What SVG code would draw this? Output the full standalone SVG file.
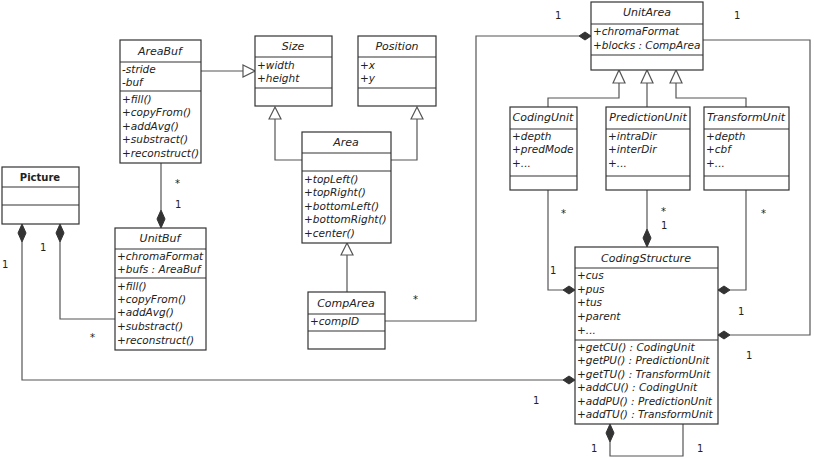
<svg xmlns="http://www.w3.org/2000/svg" width="814" height="460" viewBox="0 0 814 460">
<style>
rect{fill:#fff;stroke:#333;stroke-width:1.2}
.d{stroke:#333;stroke-width:1.2}
text{font-family:"DejaVu Sans",sans-serif;font-size:10.5px;font-style:italic;fill:#222}
.h{text-anchor:middle;font-size:11px}
.l{font-style:normal;font-size:10px}
#conn path{fill:none;stroke:#555;stroke-width:1.2}
.tri{fill:#fff;stroke:#555;stroke-width:1.2}
.dia{fill:#333;stroke:#333}
</style>
<rect x="0" y="0" width="814" height="460" style="stroke:none"/>
<g id="conn">
<path d="M201,71H243M302,160H275V119M391,160H417V119M347,292V255M161,163V210M22,242V380H563M60,242V319H115M385,321H476V36H579M703,40H810V335H730M548,107V98H619V83M647,107V83M746,107V98H676V83M548,190V290H563M647,190V229M746,190V290H730M610,442V456H683V424"/>
<polygon class="tri" points="243,65 255,71 243,77"/>
<polygon class="tri" points="269,119 275,107 281,119"/>
<polygon class="tri" points="411,119 417,107 423,119"/>
<polygon class="tri" points="341,255 347,243 353,255"/>
<polygon class="tri" points="613,83 619,70 625,83"/>
<polygon class="tri" points="641,83 647,70 653,83"/>
<polygon class="tri" points="670,83 676,70 682,83"/>
<polygon class="dia" points="161,228 157,219 161,210 165,219"/>
<polygon class="dia" points="22,224 18,233 22,242 26,233"/>
<polygon class="dia" points="60,224 56,233 60,242 64,233"/>
<polygon class="dia" points="575,380 569,376 563,380 569,384"/>
<polygon class="dia" points="591,36 585,32 579,36 585,40"/>
<polygon class="dia" points="718,335 724,331 730,335 724,339"/>
<polygon class="dia" points="575,290 569,286 563,290 569,294"/>
<polygon class="dia" points="718,290 724,286 730,290 724,294"/>
<polygon class="dia" points="647,247 643,238 647,229 651,238"/>
<polygon class="dia" points="610,424 606,433 610,442 614,433"/>
<text class="l" x="175" y="187">*</text><text class="l" x="175" y="208">1</text>
<text class="l" x="40" y="251">1</text><text class="l" x="2" y="268">1</text><text class="l" x="90" y="341">*</text>
<text class="l" x="413" y="303">*</text><text class="l" x="555" y="19">1</text>
<text class="l" x="734" y="19">1</text><text class="l" x="746" y="359">1</text>
<text class="l" x="561" y="217">*</text><text class="l" x="550" y="274">1</text>
<text class="l" x="661" y="215">*</text><text class="l" x="661" y="229">1</text>
<text class="l" x="761" y="217">*</text><text class="l" x="738" y="315">1</text>
<text class="l" x="533" y="404">1</text>
<text class="l" x="591" y="452">1</text><text class="l" x="697" y="452">1</text>
</g>
<g id="AreaBuf"><rect x="120" y="40" width="81" height="123"/><path class="d" d="M120,62H201M120,91H201"/>
<text class="h" x="160" y="55">AreaBuf</text><text x="122" y="73">-stride</text><text x="122" y="86">-buf</text>
<text x="122" y="103">+fill()</text><text x="122" y="116">+copyFrom()</text><text x="122" y="130">+addAvg()</text><text x="122" y="143">+substract()</text><text x="122" y="157">+reconstruct()</text></g>
<g id="Size"><rect x="255" y="36" width="77" height="70"/><path class="d" d="M255,57H332M255,88H332"/>
<text class="h" x="293" y="50">Size</text><text x="257" y="69">+width</text><text x="257" y="82">+height</text></g>
<g id="Position"><rect x="358" y="36" width="78" height="70"/><path class="d" d="M358,57H436M358,88H436"/>
<text class="h" x="397" y="50">Position</text><text x="360" y="69">+x</text><text x="360" y="82">+y</text></g>
<g id="Area"><rect x="302" y="132" width="89" height="111"/><path class="d" d="M302,153H391M302,171H391"/>
<text class="h" x="346" y="146">Area</text><text x="304" y="183">+topLeft()</text><text x="304" y="196">+topRight()</text><text x="304" y="210">+bottomLeft()</text><text x="304" y="223">+bottomRight()</text><text x="304" y="237">+center()</text></g>
<g id="Picture"><rect x="2" y="167" width="77" height="57"/><path class="d" d="M2,187H79M2,205H79"/>
<text class="h" x="40" y="181" style="font-style:normal;font-weight:bold;font-size:10px">Picture</text></g>
<g id="UnitBuf"><rect x="115" y="228" width="91" height="122"/><path class="d" d="M115,249H206M115,278H206"/>
<text class="h" x="160" y="242">UnitBuf</text><text x="117" y="260">+chromaFormat</text><text x="117" y="273">+bufs : AreaBuf</text>
<text x="117" y="290">+fill()</text><text x="117" y="303">+copyFrom()</text><text x="117" y="316">+addAvg()</text><text x="117" y="330">+substract()</text><text x="117" y="344">+reconstruct()</text></g>
<g id="CompArea"><rect x="308" y="292" width="77" height="57"/><path class="d" d="M308,314H385M308,331H385"/>
<text class="h" x="346" y="307">CompArea</text><text x="310" y="325">+compID</text></g>
<g id="UnitArea"><rect x="591" y="2" width="112" height="68"/><path class="d" d="M591,24H703M591,55H703"/>
<text class="h" x="647" y="16">UnitArea</text><text x="593" y="35">+chromaFormat</text><text x="593" y="49">+blocks : CompArea</text></g>
<g id="CodingUnit"><rect x="510" y="107" width="67" height="83"/><path class="d" d="M510,129H577M510,176H577"/>
<text class="h" x="543" y="121">CodingUnit</text><text x="512" y="140">+depth</text><text x="512" y="153">+predMode</text><text x="512" y="167">+...</text></g>
<g id="PredictionUnit"><rect x="606" y="107" width="84" height="83"/><path class="d" d="M606,129H690M606,176H690"/>
<text class="h" x="648" y="121">PredictionUnit</text><text x="608" y="140">+intraDir</text><text x="608" y="153">+interDir</text><text x="608" y="167">+...</text></g>
<g id="TransformUnit"><rect x="704" y="107" width="85" height="83"/><path class="d" d="M704,129H789M704,176H789"/>
<text class="h" x="746" y="121">TransformUnit</text><text x="706" y="140">+depth</text><text x="706" y="153">+cbf</text><text x="706" y="167">+...</text></g>
<g id="CodingStructure"><rect x="575" y="247" width="143" height="177"/><path class="d" d="M575,268H718M575,340H718"/>
<text class="h" x="646" y="262">CodingStructure</text>
<text x="577" y="279">+cus</text><text x="577" y="293">+pus</text><text x="577" y="306">+tus</text><text x="577" y="320">+parent</text><text x="577" y="334">+...</text>
<text x="577" y="351">+getCU() : CodingUnit</text><text x="577" y="364">+getPU() : PredictionUnit</text><text x="577" y="378">+getTU() : TransformUnit</text><text x="577" y="391">+addCU() : CodingUnit</text><text x="577" y="405">+addPU() : PredictionUnit</text><text x="577" y="418">+addTU() : TransformUnit</text></g>
</svg>
